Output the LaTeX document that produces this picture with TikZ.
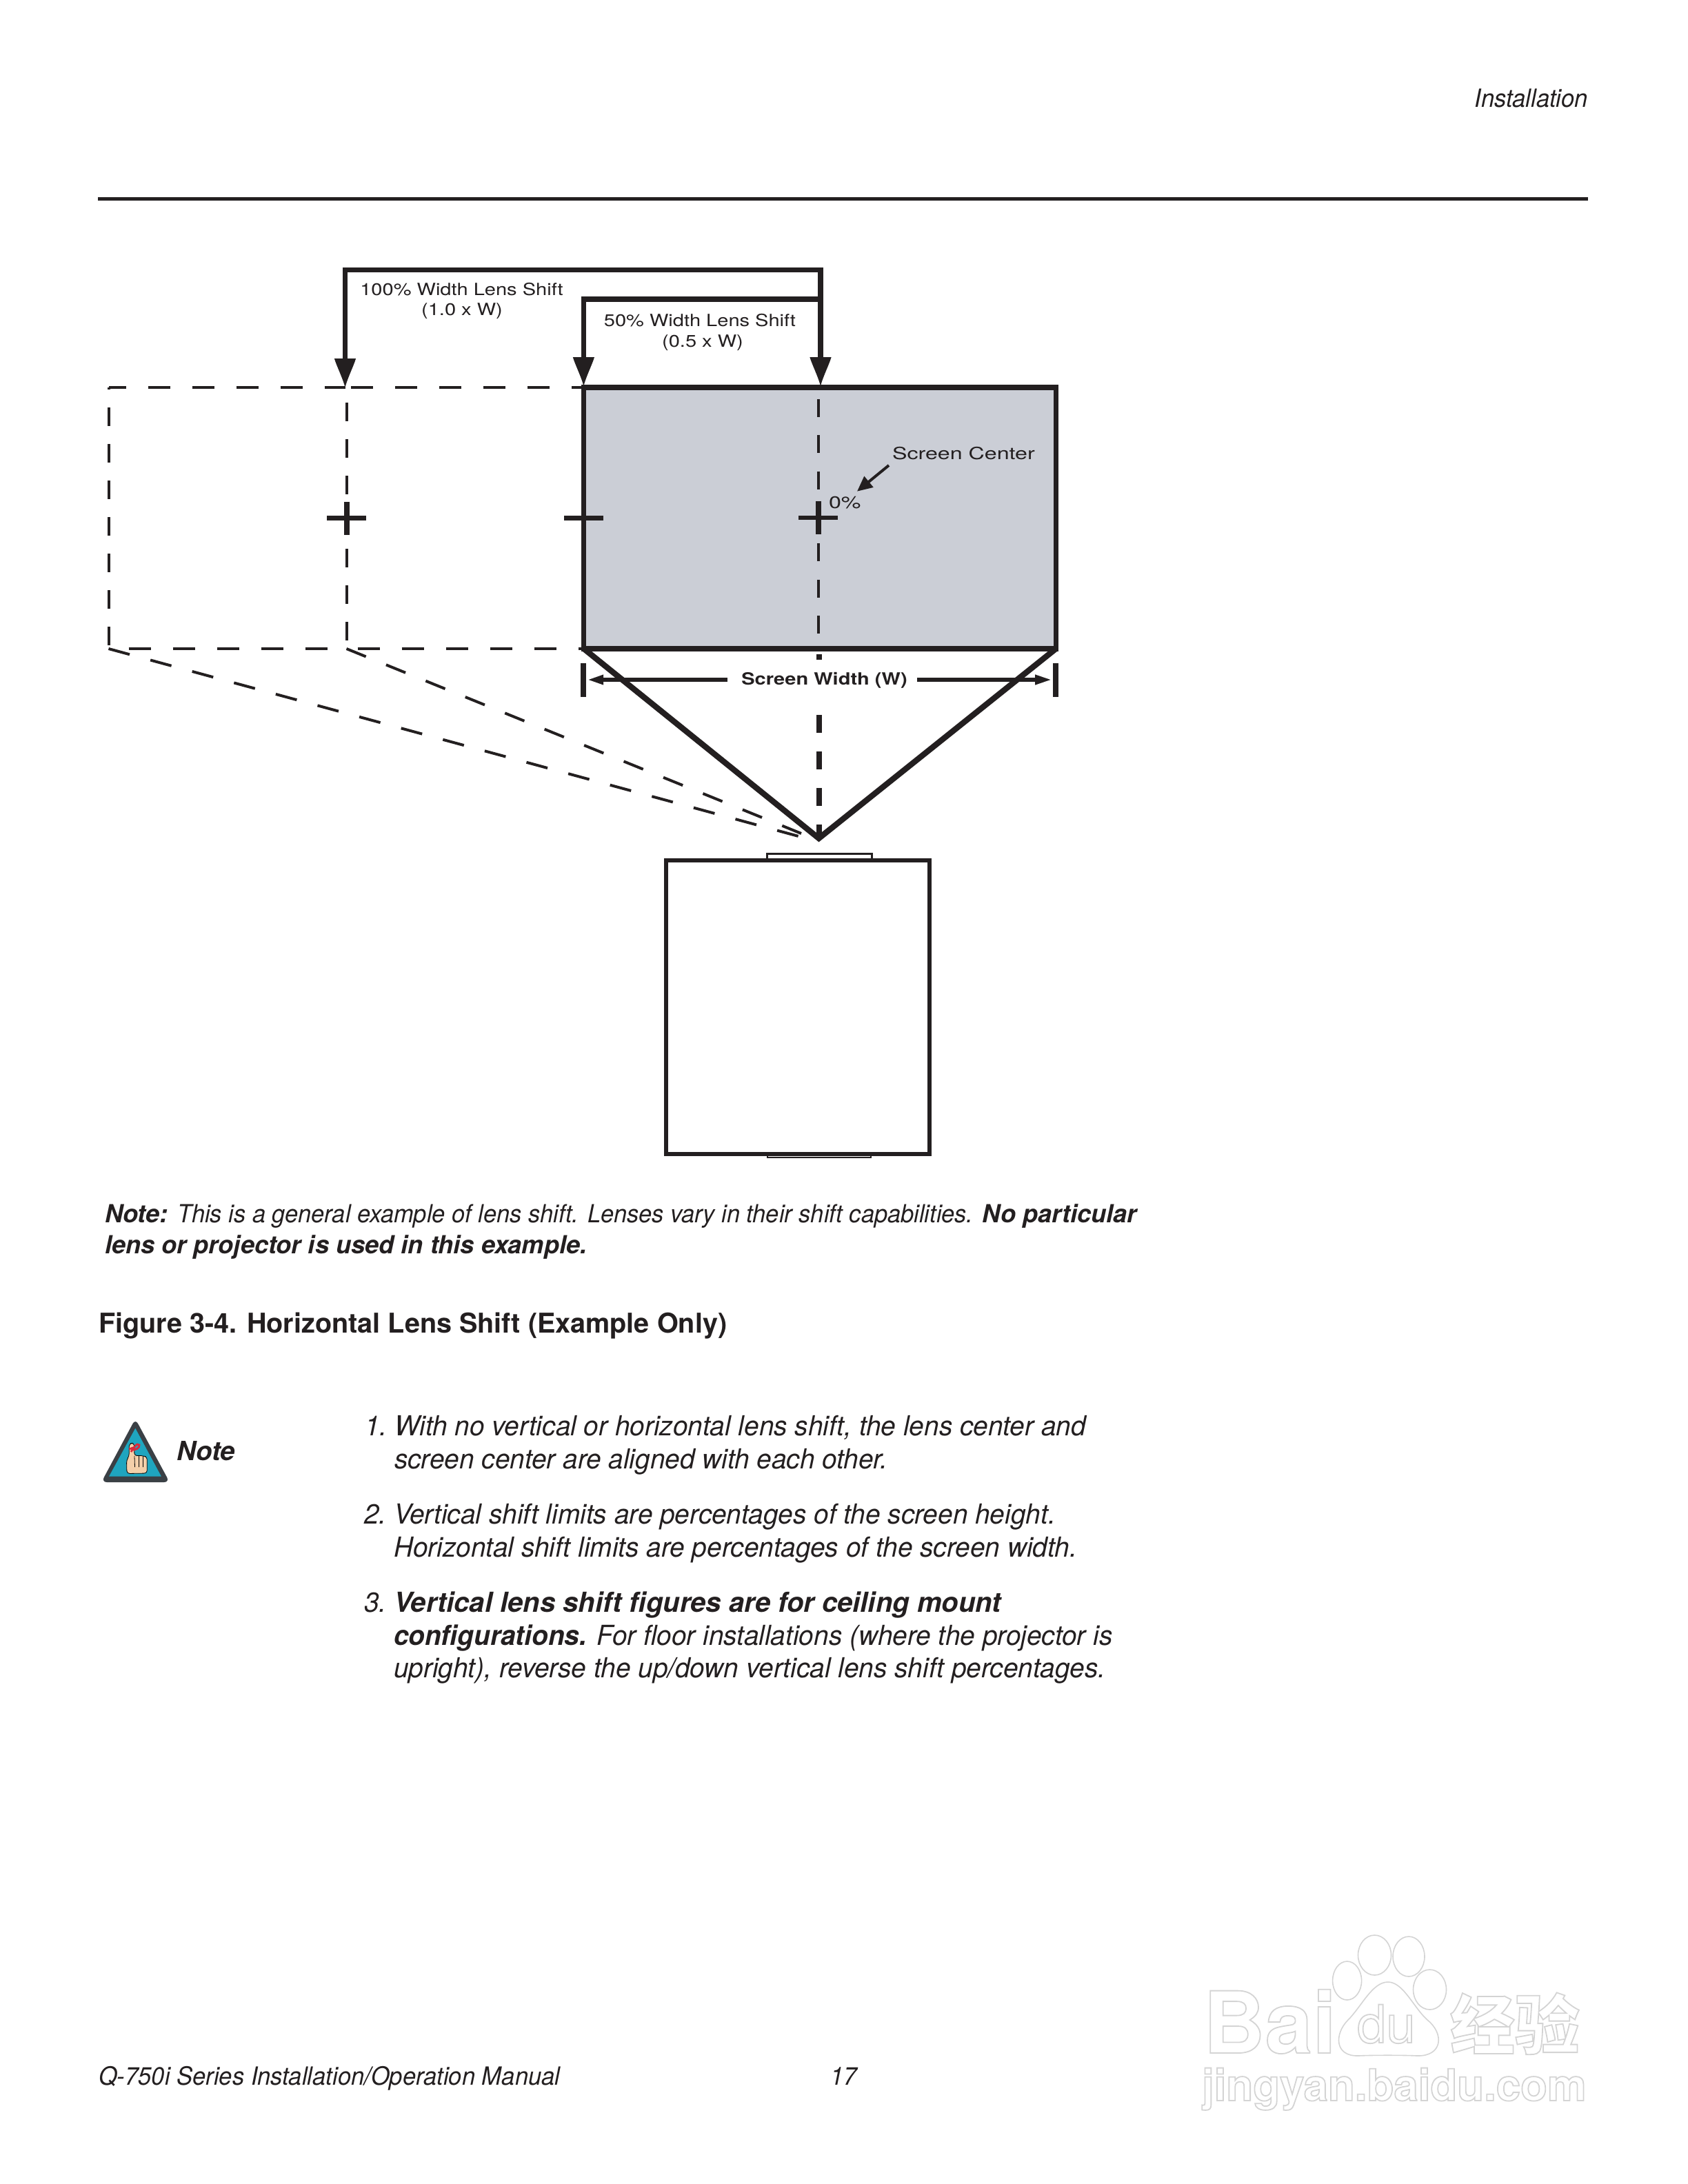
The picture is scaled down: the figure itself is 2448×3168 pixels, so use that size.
\documentclass[tikz,border=0pt]{standalone}
\usepackage{fontspec}
\setmainfont{TeX Gyre Heros}
\newfontfamily\wide[FakeStretch=1.19]{TeX Gyre Heros}
\newfontfamily\wider[FakeStretch=1.32]{TeX Gyre Heros}
\newfontfamily\lightn[FakeStretch=0.95]{TeX Gyre Heros}
\newfontfamily\lightb[FakeStretch=0.97]{TeX Gyre Heros}
\newfontfamily\cjkf{Noto Sans CJK SC}
\usetikzlibrary{arrows.meta}
\definecolor{ink}{HTML}{231F20}
\definecolor{screenfill}{HTML}{CBCED6}
\definecolor{iconedge}{HTML}{3A4045}
\definecolor{iconteal}{HTML}{1FA5BF}
\definecolor{skin}{HTML}{F3CFA9}
\definecolor{ribbon}{HTML}{D9293A}
\definecolor{wmark}{HTML}{D4D4D4}
\pgfdeclarearrow{
  name=BigTip,
  setup code={\pgfarrowssettipend{0pt}\pgfarrowssetbackend{-10.5pt}\pgfarrowssetlineend{-9pt}\pgfarrowssetvisualbackend{-9pt}},
  drawing code={
    \pgfsetlinewidth{0pt}
    \pgfpathmoveto{\pgfpoint{0pt}{0pt}}
    \pgfpathcurveto{\pgfpoint{-3.5pt}{0.9pt}}{\pgfpoint{-8pt}{3.2pt}}{\pgfpoint{-10.5pt}{3.9pt}}
    \pgfpathlineto{\pgfpoint{-10.5pt}{-3.9pt}}
    \pgfpathcurveto{\pgfpoint{-8pt}{-3.2pt}}{\pgfpoint{-3.5pt}{-0.9pt}}{\pgfpoint{0pt}{0pt}}
    \pgfpathclose\pgfusepathqfill
  }
}
\tikzset{
  x=0.25pt,y=-0.25pt,
  txt/.style={inner sep=0pt,outer sep=0pt,text=ink,anchor=base west},
  txtc/.style={txt,anchor=base},
  solidline/.style={draw=ink,line width=1.85pt,line join=miter},
  beamline/.style={draw=ink,line width=2.1pt,line join=miter},
  ghost/.style={draw=ink,line width=1pt},
  ghostH/.style={ghost,dash pattern=on 8pt off 8pt},
  ghostV/.style={ghost,dash pattern=on 6.65pt off 6.6pt},
  centerV/.style={draw=ink,line width=1pt,dash pattern=on 6.5pt off 6.6pt},
  crossH/.style={draw=ink,line width=1.6pt},
  crossV/.style={draw=ink,line width=2pt},
  dimline/.style={draw=ink,line width=1.7pt},
  wide/.style={font=\wide\fontsize{6.1pt}{7pt}\selectfont},
  wider/.style={font=\wider\fontsize{6.1pt}{7pt}\selectfont},
  body/.style={font=\lightb\itshape\fontsize{10pt}{11pt}\selectfont},
  bodybold/.style={font=\bfseries\itshape\fontsize{10pt}{11pt}\selectfont},
  page/.style={font=\lightn\itshape\fontsize{9.1pt}{11pt}\selectfont},
  wm/.style={inner sep=0pt,outer sep=0pt,anchor=base west},
  wmline/.style={draw=wmark,line width=0.4pt},
}
\newcommand{\wmtext}[1]{\special{pdf:code 1 Tr 0.45 w 0.83 G}#1\special{pdf:code 0 Tr}}
\begin{document}
\begin{tikzpicture}
\useasboundingbox (0,0) rectangle (2448,3168);
% watermark
\node[wm,font=\bfseries\fontsize{31pt}{31pt}\selectfont] (wmBai) at (1745,2978) {\wmtext{Bai}};
\node[wm,font=\fontsize{19pt}{19pt}\selectfont] (wmdu) at (1968,2963) {\wmtext{du}};
\node[wm,font=\cjkf\bfseries\fontsize{23.5pt}{24pt}\selectfont] (wmcn) at (2103,2972) {\wmtext{经验}};
\node[wm,font=\bfseries\fontsize{15.9pt}{16pt}\selectfont] (wmurl) at (1743,3047) {\wmtext{jingyan.baidu.com}};
\draw[wmline] (1953.6,2873) ellipse [x radius=21,y radius=28];
\draw[wmline] (1993.5,2836) ellipse [x radius=24,y radius=29];
\draw[wmline] (2043,2838) ellipse [x radius=23,y radius=29];
\draw[wmline] (2073.5,2886) ellipse [x radius=24,y radius=29];
\draw[wmline] (2013,2875) .. controls (1990,2875) and (1975,2910) .. (1955,2930)
  .. controls (1935,2950) and (1935,2983) .. (1970,2982)
  .. controls (1990,2981) and (2035,2981) .. (2055,2982)
  .. controls (2092,2983) and (2095,2950) .. (2070,2930)
  .. controls (2050,2912) and (2035,2875) .. (2013,2875) -- cycle;
% header and footer
\node[txt,page,anchor=base east] (head) at (2303,156) {Installation};
\coordinate (ruleL) at (142,288.5);
\coordinate (ruleR) at (2303,288.5);
\draw[ink,line width=1.05pt] (ruleL) -- (ruleR);
\node[txt,page] (foot) at (143,3024) {Q-750i Series Installation/Operation Manual};
\node[txt,page] (pagenum) at (1204,3024) {17};
% screen
\node[draw=ink,fill=screenfill,line width=1.85pt,rectangle,outer sep=0pt,inner sep=0pt,
  minimum width=171.15pt,minimum height=94.75pt] (screen) at (1189,751.5) {};
% projector
\node[draw=ink,line width=0.75pt,rectangle,outer sep=0pt,inner sep=0pt,
  minimum width=37.9pt,minimum height=3pt] (lens) at (1188.5,1244) {};
\node[draw=ink,line width=0.4pt,rectangle,outer sep=0pt,inner sep=0pt,
  minimum width=37.5pt,minimum height=2pt] (rearTab) at (1188,1675) {};
\node[draw=ink,fill=white,line width=1.5pt,rectangle,outer sep=0pt,inner sep=0pt,
  minimum width=95.6pt,minimum height=106.5pt] (projector) at (1156.8,1460.7) {};
% key points
\coordinate (apex) at (1187.5,1216);
\coordinate (gTL) at (157.5,562);
\coordinate (gBL) at (157.5,941);
\coordinate (gTM) at (502.5,562);
\coordinate (gBM) at (502.5,941);
% ghost screen outline
\draw[ghostH,dash phase=1.75pt] (gTL) -- (501,562);
\draw[ghostH,dash phase=14.4pt] (gTM) -- (screen.north west);
\draw[ghostH,dash phase=8.75pt] (gBL) -- (gBM);
\draw[ghostH,dash phase=12pt] (gBM) -- (screen.south west);
\draw[ghostV,dash phase=6pt] (gTL) -- (gBL);
\draw[ghostV,dash phase=7.7pt] (gTM) -- (gBM);
\draw[centerV,dash phase=8.9pt] (1187,562) -- (1187,924);
% beams
\draw[beamline] (screen.south west) -- (apex) -- (screen.south east);
\draw[ghost,dash pattern=on 7.9pt off 7.8pt] (gBL) -- (1158,1213);
\draw[ghost,dash pattern=on 7.6pt off 7.9pt] (gBM) -- (1162,1209);
\draw[draw=ink,line width=2pt] (1187.7,949) -- (1187.7,957);
\draw[draw=ink,line width=2pt,dash pattern=on 6.6pt off 6.65pt] (1187.7,1037) -- (1187.7,1218);
% shift brackets
\coordinate (oneA) at (1190,441);
\coordinate (oneB) at (1190,391.6);
\coordinate (oneC) at (500.5,391.6);
\coordinate (oneD) at (500.5,562);
\draw[solidline,-{BigTip}] (oneA) -- (oneB) -- (oneC) -- (oneD);
\coordinate (twoA) at (846.4,560);
\coordinate (twoB) at (846.4,434);
\coordinate (twoC) at (1190,434);
\coordinate (twoD) at (1190,560);
\draw[solidline,{BigTip}-{BigTip}] (twoA) -- (twoB) -- (twoC) -- (twoD);
% crosses
\draw[crossH] (474,751.5) -- (531,751.5);
\draw[crossV] (502.5,728) -- (502.5,776);
\draw[crossH] (818,751.5) -- (875,751.5);
\draw[crossH] (1158,751) -- (1215,751);
\draw[crossV] (1187,727) -- (1187,775);
% labels in the diagram
\node[txtc,wide] (l100) at (669.5,428) {100\% Width Lens Shift};
\node[txtc,wide] (l100b) at (670,457.7) {(1.0 x W)};
\node[txtc,wide] (l50) at (1015,473.5) {50\% Width Lens Shift};
\node[txtc,wide] (l50b) at (1019,503) {(0.5 x W)};
\node[txt,wider] (lsc) at (1294,666.5) {Screen Center};
\node[txt,wider] (lzero) at (1202,737.6) {0\%};
\coordinate (leader) at (1289,675);
\coordinate (leaderTip) at (1243,712.7);
\draw[draw=ink,line width=1pt,-{Triangle[length=5.5pt,width=5pt]}] (leader) -- (leaderTip);
% screen width dimension
\node[txtc,font=\wide\bfseries\fontsize{6.1pt}{7pt}\selectfont] (lsw) at (1195.5,993) {Screen Width (W)};
\coordinate (dimL) at (851,986);
\coordinate (dimR) at (1527,986);
\draw[dimline,{Triangle[length=6pt,width=3.2pt]}-] (dimL) -- (1055,986);
\draw[dimline,-{Triangle[length=6.5pt,width=3.2pt]}] (1330,986) -- (dimR);
\draw[draw=ink,line width=1.8pt] (846,962) -- (846,1011);
\draw[draw=ink,line width=1.9pt] (1531,962) -- (1531,1011);
% note under figure
\node[txt,font=\fontsize{9.05pt}{11pt}\selectfont] (note1) at (152,1773) {{\bfseries\itshape Note:} {\lightn\itshape This is a general example of lens shift. Lenses vary in their shift capabilities.} {\bfseries\itshape No particular}};
\node[txt,font=\bfseries\itshape\fontsize{9.05pt}{11pt}\selectfont] (note2) at (152,1818) {lens or projector is used in this example.};
\node[txt,font=\bfseries\fontsize{9.9pt}{11pt}\selectfont] (fig) at (143,1933) {Figure 3-4. Horizontal Lens Shift (Example Only)};
% note icon
\fill[iconedge,rounded corners=2pt] (196.3,2058) -- (246,2150) -- (147,2150) -- cycle;
\fill[iconteal] (196.3,2071.7) -- (234,2141.7) -- (158,2141.7) -- cycle;
\draw[draw=black,fill=skin,line width=0.2pt,rounded corners=1pt]
  (187.3,2112) -- (187.3,2094) -- (194.5,2093) -- (195,2112) -- (201.5,2111) -- (207.5,2112) -- (213.3,2113)
  -- (213.3,2137) -- (184,2137.5) -- (183.5,2118) -- cycle;
\draw[draw=black,line width=0.2pt] (195,2112) -- (195.5,2128) (201.5,2111) -- (201.5,2128) (207.5,2112) -- (207.5,2128);
\draw[draw=ribbon,line width=0.7pt] (187,2102) -- (196,2099) (190,2106) .. controls (194,2100) and (198,2092) .. (202,2096) .. controls (203,2100) and (196,2104) .. (192,2103);
\node[txt,font=\bfseries\itshape\fontsize{9.6pt}{11pt}\selectfont] (notehead) at (256.7,2118) {Note};
% numbered notes
\node[txt,body] (n1) at (529,2082.5) {1.};
\node[txt,body] (t1a) at (572,2082.5) {With no vertical or horizontal lens shift, the lens center and};
\node[txt,body] (t1b) at (572,2130) {screen center are aligned with each other.};
\node[txt,body] (n2) at (528,2210.5) {2.};
\node[txt,body] (t2a) at (571,2210.5) {Vertical shift limits are percentages of the screen height.};
\node[txt,body] (t2b) at (571,2258.3) {Horizontal shift limits are percentages of the screen width.};
\node[txt,body] (n3) at (528,2338.5) {3.};
\node[txt,bodybold] (t3a) at (571,2338.5) {Vertical lens shift figures are for ceiling mount};
\node[txt,body] (t3b) at (571,2386.5) {{\bfseries\itshape\fontsize{10pt}{11pt}\selectfont configurations.} For floor installations (where the projector is};
\node[txt,body] (t3c) at (571,2433.5) {upright), reverse the up/down vertical lens shift percentages.};
\end{tikzpicture}
\end{document}
